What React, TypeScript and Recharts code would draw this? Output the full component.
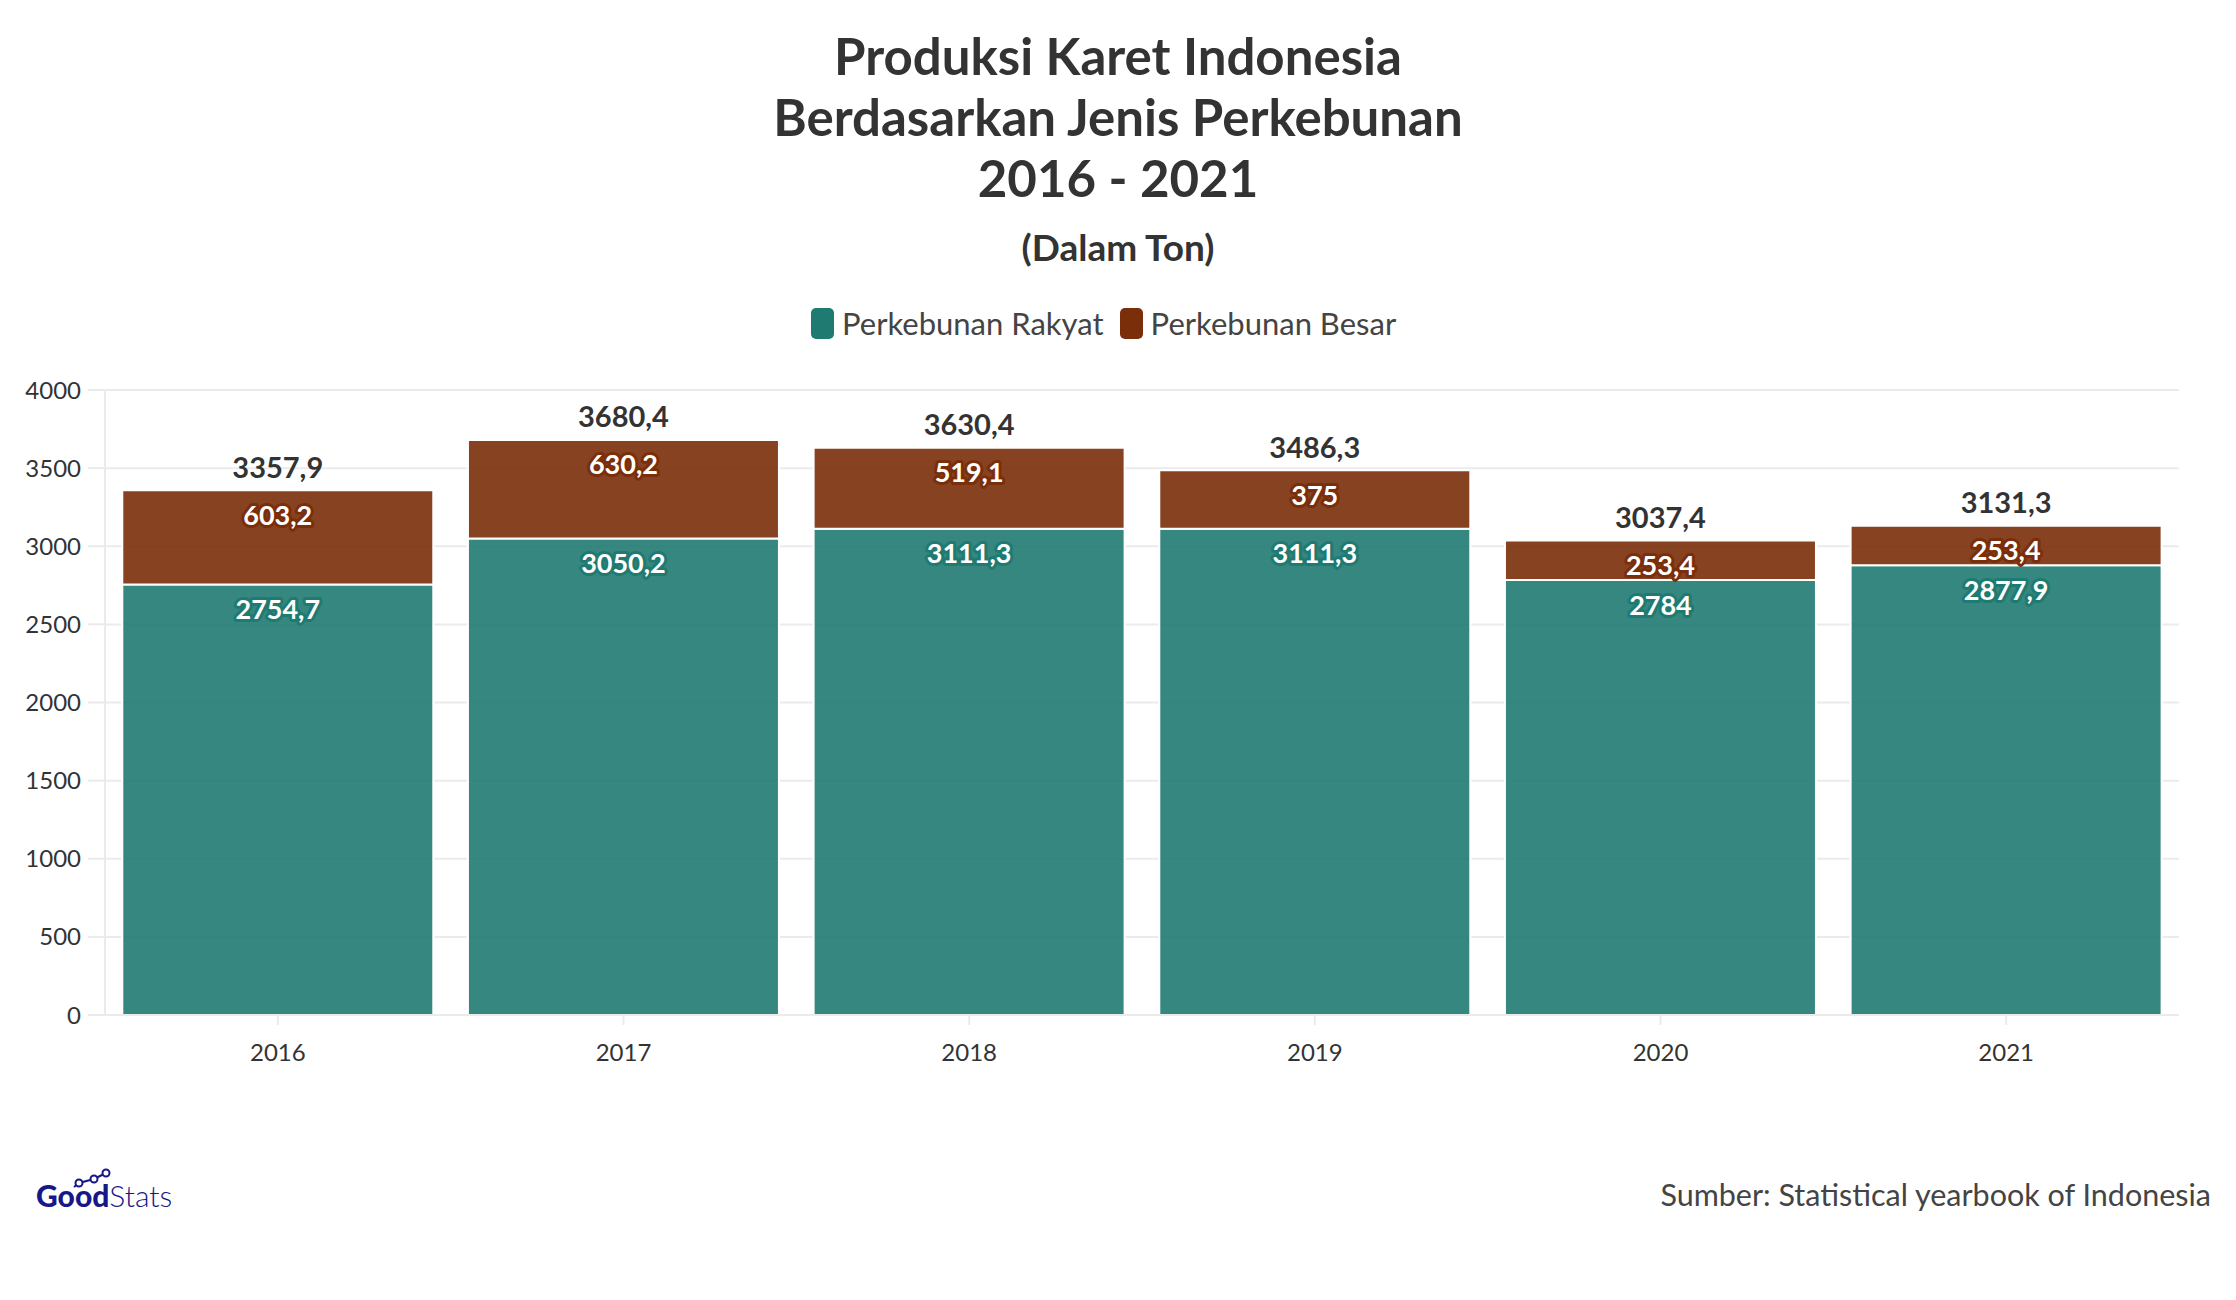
import React from 'react';
import { BarChart, Bar, XAxis, YAxis, CartesianGrid, LabelList } from 'recharts';

const years = ['2016', '2017', '2018', '2019', '2020', '2021'];
const rakyat = [2754.7, 3050.2, 3111.3, 3111.3, 2784, 2877.9];
const besar = [603.2, 630.2, 519.1, 375, 253.4, 253.4];
const totals = [3357.9, 3680.4, 3630.4, 3486.3, 3037.4, 3131.3];
const yTicks = [0, 500, 1000, 1500, 2000, 2500, 3000, 3500, 4000];
const titleLines = ['Produksi Karet Indonesia', 'Berdasarkan Jenis Perkebunan', '2016 - 2021'];

const data = years.map((y, i) => ({ year: y, rakyat: rakyat[i], besar: besar[i], total: totals[i] }));

const FONT = 'Lato, "Noto Sans", sans-serif';
const TEAL = '#1f7a72';
const BROWN = '#7a2e0a';
const GRID = '#ebebeb';
const TXT = '#333333';
const NAVY = '#17178a';

const fmt = (v: any) => String(v).replace('.', ',');

const innerLabel = (color: string) => (props: any) => {
  const { x, y, width, value } = props;
  return (
    <text
      x={Number(x) + Number(width) / 2}
      y={Number(y) + 24}
      textAnchor="middle"
      dominantBaseline="central"
      fill="#ffffff"
      stroke={color}
      strokeWidth={6}
      strokeLinejoin="round"
      paintOrder="stroke"
      fontSize={27}
      fontWeight={700}
      fontFamily={FONT}
    >
      {fmt(value)}
    </text>
  );
};

const totalLabel = (props: any) => {
  const { x, y, width, value } = props;
  return (
    <text
      x={Number(x) + Number(width) / 2}
      y={Number(y) - 24}
      textAnchor="middle"
      dominantBaseline="central"
      fill={TXT}
      fontSize={29}
      fontWeight={700}
      fontFamily={FONT}
    >
      {fmt(value)}
    </text>
  );
};

export default function App() {
  return (
    <div style={{ position: 'absolute', left: 0, top: 0, width: 2236, height: 1300, background: '#fff', fontFamily: FONT, color: TXT }}>
      <div style={{ position: 'absolute', left: 0, top: 25, width: 2236, textAlign: 'center', fontSize: 51, fontWeight: 700, lineHeight: '61px' }}>
        {titleLines.map((t) => (
          <div key={t}>{t}</div>
        ))}
      </div>
      <div style={{ position: 'absolute', left: 0, top: 226, width: 2236, textAlign: 'center', fontSize: 37, fontWeight: 700, lineHeight: '42px' }}>
        (Dalam Ton)
      </div>
      <div style={{ position: 'absolute', left: 811, top: 306, height: 34, display: 'flex', alignItems: 'center', fontSize: 31, color: '#444', lineHeight: '34px' }}>
        <span style={{ display: 'inline-block', width: 23, height: 31, borderRadius: 5, background: TEAL, marginRight: 8 }} />
        <span style={{ marginRight: 16 }}>Perkebunan Rakyat</span>
        <span style={{ display: 'inline-block', width: 23, height: 31, borderRadius: 5, background: BROWN, marginRight: 8 }} />
        <span>Perkebunan Besar</span>
      </div>
      <div style={{ position: 'absolute', left: 0, top: 0 }}>
        <BarChart
          width={2236}
          height={1300}
          data={data}
          margin={{ top: 390, right: 57, bottom: 225, left: 0 }}
          barCategoryGap="5%"
        >
          <CartesianGrid vertical={false} stroke={GRID} strokeWidth={2} />
          <XAxis
            dataKey="year"
            height={60}
            tickSize={10}
            tickMargin={19}
            axisLine={{ stroke: GRID, strokeWidth: 2 }}
            tickLine={{ stroke: GRID, strokeWidth: 2 }}
            tick={{ fontSize: 24, fill: TXT, fontFamily: FONT }}
          />
          <YAxis
            width={105}
            domain={[0, 4000]}
            ticks={yTicks}
            interval={0}
            tickSize={17}
            tickMargin={7}
            axisLine={{ stroke: GRID, strokeWidth: 2 }}
            tickLine={{ stroke: GRID, strokeWidth: 2 }}
            tick={{ fontSize: 24, fill: TXT, fontFamily: FONT }}
          />
          <Bar dataKey="rakyat" stackId="a" fill={TEAL} fillOpacity={0.9} stroke="#ffffff" strokeWidth={2} isAnimationActive={false}>
            <LabelList dataKey="rakyat" content={innerLabel(TEAL)} />
          </Bar>
          <Bar dataKey="besar" stackId="a" fill={BROWN} fillOpacity={0.9} stroke="#ffffff" strokeWidth={2} isAnimationActive={false}>
            <LabelList dataKey="besar" content={innerLabel(BROWN)} />
            <LabelList dataKey="total" content={totalLabel} />
          </Bar>
        </BarChart>
      </div>
      <svg style={{ position: 'absolute', left: 30, top: 1158 }} width={170} height={60}>
        <polyline points="44,29 49,25 64,21 76,15" fill="none" stroke={NAVY} strokeWidth={2} />
        <circle cx={49} cy={25} r={3.5} fill="#fff" stroke={NAVY} strokeWidth={2} />
        <circle cx={64} cy={21} r={3.5} fill="#fff" stroke={NAVY} strokeWidth={2} />
        <circle cx={76} cy={15} r={3.5} fill="#fff" stroke={NAVY} strokeWidth={2} />
        <text x={6} y={49} fontFamily={FONT} fontSize={30} fill={NAVY}>
          <tspan fontWeight={900}>Good</tspan>
          <tspan fontWeight={300}>Stats</tspan>
        </text>
      </svg>
      <div style={{ position: 'absolute', right: 25, top: 1175, fontSize: 30.5, color: '#444', lineHeight: '38px' }}>
        Sumber: Statistical yearbook of Indonesia
      </div>
    </div>
  );
}
